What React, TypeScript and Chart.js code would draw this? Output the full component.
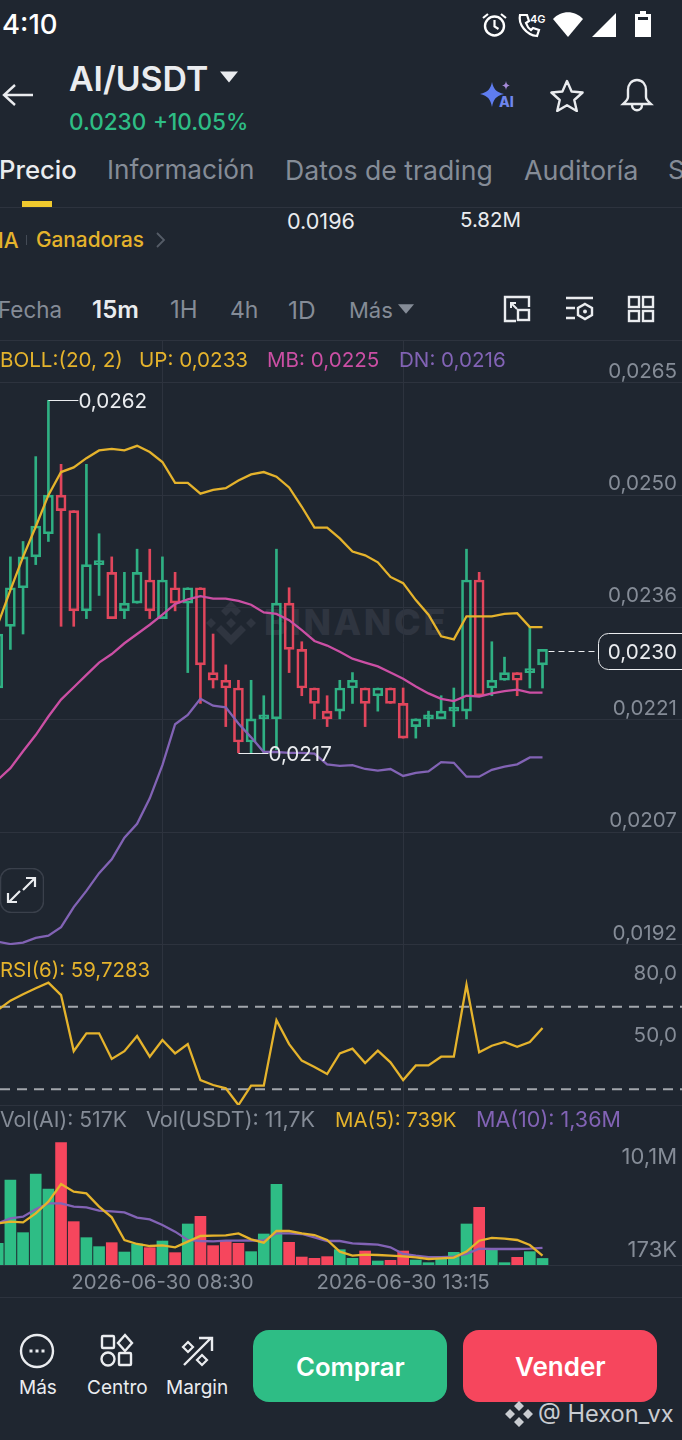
import React, { useEffect, useRef } from "react";
import { Chart, registerables } from "chart.js";

Chart.register(...registerables);

// ---------- data ----------
const opens = [0.0225,0.0233,0.0238,0.0242,0.0245,0.0250,0.0248,0.0235,0.0241,0.0240,0.0235,0.0236,0.0239,0.0234,0.0238,0.0236,0.0238,0.0227,0.0226,0.0225,0.0218,0.0221,0.0221,0.0236,0.0230,0.0225,0.0222,0.0222,0.0225,0.0225,0.0224,0.0225,0.0223,0.0220,0.0221,0.0221,0.0222,0.0222,0.0239,0.0225,0.0226,0.0227,0.0227,0.0228];
const closes = [0.0232,0.0238,0.0242,0.0246,0.0250,0.0248,0.0235,0.0241,0.0241,0.0234,0.0236,0.0240,0.0235,0.0239,0.0236,0.0238,0.0228,0.0226,0.0225,0.0218,0.0221,0.0221,0.0236,0.0230,0.0225,0.0223,0.0221,0.0225,0.0226,0.0223,0.0225,0.0223,0.02185,0.0221,0.0221,0.0222,0.0222,0.0239,0.0224,0.0226,0.0227,0.0226,0.0227,0.0230];
const highs = [0.0233,0.0242,0.0244,0.0255,0.02623,0.0254,0.0248,0.0254,0.0245,0.0242,0.0240,0.0243,0.0243,0.0242,0.0240,0.0238,0.0238,0.0232,0.0228,0.0226,0.0226,0.0224,0.0243,0.0238,0.0231,0.0225,0.0224,0.0226,0.0227,0.0225,0.0225,0.0225,0.0225,0.0221,0.0222,0.0224,0.0225,0.0243,0.0240,0.0231,0.0229,0.0227,0.0233,0.0230];
const lows = [0.0224,0.0230,0.0232,0.0241,0.0244,0.0233,0.0233,0.0234,0.0237,0.0234,0.0234,0.0236,0.0234,0.0234,0.0235,0.0227,0.0223,0.0225,0.0220,0.02166,0.02166,0.02166,0.0217,0.0227,0.0224,0.0221,0.0220,0.0221,0.0223,0.0220,0.0222,0.0223,0.02185,0.02185,0.0220,0.0221,0.0220,0.0221,0.0224,0.0224,0.0226,0.0224,0.0225,0.0225];
const bollUp = [0.02332,0.02377,0.0242,0.02459,0.025,0.0253,0.02536,0.02548,0.02558,0.0256,0.02558,0.02564,0.02556,0.02543,0.02516,0.02516,0.02502,0.02507,0.02509,0.02519,0.02527,0.0253,0.02524,0.0251,0.02485,0.02458,0.02458,0.02444,0.02427,0.02422,0.02413,0.02394,0.02386,0.02364,0.02345,0.02317,0.02313,0.02343,0.02343,0.02343,0.02346,0.02347,0.02329,0.02329];
const bollMid = [0.02131,0.02146,0.02168,0.02189,0.02213,0.02235,0.02251,0.02267,0.02283,0.02294,0.02308,0.0232,0.02332,0.02345,0.02359,0.02365,0.02369,0.02366,0.02366,0.02363,0.02358,0.02348,0.02346,0.02338,0.02325,0.02311,0.02305,0.02297,0.02288,0.02283,0.02278,0.0227,0.02262,0.02252,0.02243,0.02236,0.02233,0.0224,0.02239,0.02243,0.02246,0.02248,0.02244,0.02244];
const bollDn = [0.01921,0.01918,0.0192,0.01926,0.01929,0.0194,0.01966,0.01987,0.0201,0.02028,0.02056,0.02074,0.02107,0.0215,0.02203,0.02215,0.02236,0.02227,0.02225,0.02204,0.02186,0.02167,0.02167,0.02166,0.02166,0.02165,0.02151,0.02149,0.0215,0.02145,0.02143,0.02145,0.02136,0.0214,0.02142,0.02154,0.02153,0.02135,0.02135,0.02144,0.02148,0.02151,0.0216,0.0216];
const rsi = [68.4,72.9,76,78.9,81.6,75.6,48.5,57.1,57.1,44.7,48.5,55.8,45.8,53.9,47.4,51.9,34.5,32.1,30.5,22.4,31.8,31.8,63.5,51.9,43.9,40.8,37.4,47.4,49.7,42.7,48.7,43.1,34.5,41.6,41.6,45.8,45.8,80.6,47.9,51.1,52.9,50.6,52.9,59.7283];
const rsiBands = [70, 30];
const volumeK = [1710,6715,2555,7190,6005,9665,3425,2160,1450,1765,1025,1660,1370,1895,975,3240,3845,1530,1895,1710,1055,2450,6370,1790,630,525,660,1210,525,1105,315,370,1105,395,185,525,1000,3240,4555,1210,185,605,1055,517];
const volMa5K = [3290,3425,3370,4080,5000,6400,5790,5660,4610,3765,1975,1660,1500,1555,1395,1845,2290,2315,2345,2500,2030,1765,2685,2685,2500,2370,1975,1055,735,815,790,735,685,605,475,525,580,1055,1920,2135,2080,1975,1580,739];
const volMa10K = [3290,3685,3820,4395,4870,4870,4610,4555,4290,4240,4160,3740,3605,3160,2635,1975,1895,1870,1920,1920,1950,1920,2500,2500,2450,2185,1895,1895,1710,1660,1605,1395,870,735,630,630,660,870,1290,1265,1265,1265,1290,1360];
const priceTickValues = [0.02646,0.025,0.02355,0.02209,0.02063,0.01917];
const priceTickLabels = ["0,0265","0,0250","0,0236","0,0221","0,0207","0,0192"];
const rsiTickValues = [80,50];
const volTickValues = [10100,173];
const volTickLabels = ["10,1M","173K"];
const timeTickIndex = [13,32];
const timeTickLabels = ["2026-06-30 08:30","2026-06-30 13:15"];

// ---------- style ----------
const FONT = "Inter, sans-serif";
const BG = "#1f2630";
const GRID = "#2d333e";
const GREEN = "#2ebd85";
const RED = "#f6465d";
const CANDLE_GREEN = "#2fb083";
const CANDLE_RED = "#e0465c";
const YELLOW = "#e5b32c";
const PINK = "#cb4fa4";
const PURPLE = "#8263b5";
const AXIS = "#858c97";
const W = 682;
const X_MIN = 0.18;
const X_MAX = 54.01;

const idx = opens.map((_, i) => i);
const series = (values: number[]) => values.map((y, x) => ({ x, y }));
const isUp = (i: number) => closes[i] >= opens[i];
const candleColors = idx.map((i) => (isUp(i) ? CANDLE_GREEN : CANDLE_RED));
const volColors = idx.map((i) => (isUp(i) ? GREEN : RED));
const fmtPrice = (v: number) => v.toFixed(4).replace(".", ",");

const lineDs = (data: any, color: string, extra: any = {}) => ({
  type: "line",
  data,
  borderColor: color,
  borderWidth: 2.3,
  pointRadius: 0,
  tension: 0,
  order: 0,
  ...extra,
});

const noPadding = (s: any) => {
  s.paddingTop = 0;
  s.paddingBottom = 0;
  s.paddingLeft = 0;
  s.paddingRight = 0;
};

const xScale = (showLabels: boolean, height: number) => ({
  type: "linear",
  min: X_MIN,
  max: X_MAX,
  offset: false,
  afterBuildTicks: (s: any) => { s.ticks = timeTickIndex.map((value) => ({ value })); },
  afterFit: (s: any) => { s.height = height; noPadding(s); },
  grid: { color: GRID, offset: false, drawTicks: false, lineWidth: 1 },
  border: { display: false },
  ticks: {
    display: showLabels,
    autoSkip: false,
    maxRotation: 0,
    padding: 6,
    color: AXIS,
    font: { family: FONT, size: 20.4 },
    callback: (_: any, i: number) => timeTickLabels[i],
  },
});

const yScale = (min: number, max: number, values: number[], labels: (i: number, v: number) => string, opts: any = {}) => ({
  position: "right",
  min,
  max,
  afterBuildTicks: (s: any) => { s.ticks = values.map((value) => ({ value })); },
  afterFit: (s: any) => { s.width = 0; noPadding(s); },
  grid: { color: GRID, drawTicks: false, display: opts.grid ?? false },
  border: { display: false },
  ticks: {
    display: opts.labels ?? true,
    mirror: true,
    padding: -5,
    labelOffset: opts.labelOffset ?? -11,
    autoSkip: false,
    color: AXIS,
    font: { family: FONT, size: 20.6 },
    callback: (v: number, i: number) => labels(i, v),
  },
});

const baseOptions = {
  responsive: false,
  animation: false,
  events: [],
  layout: { padding: 0 },
  plugins: { legend: { display: false }, tooltip: { enabled: false } },
};

const priceMarks = {
  id: "priceMarks",
  afterDatasetsDraw(chart: any) {
    const { ctx, scales } = chart;
    const { x, y } = scales;
    ctx.save();
    ctx.font = `20.6px ${FONT}`;
    ctx.textBaseline = "middle";
    ctx.textAlign = "left";
    const mark = (i: number, v: number) => {
      const px = x.getPixelForValue(i);
      const py = Math.round(y.getPixelForValue(v)) + 0.5;
      ctx.strokeStyle = "#eaecef";
      ctx.lineWidth = 1;
      ctx.beginPath();
      ctx.moveTo(px, py);
      ctx.lineTo(px + 30, py);
      ctx.stroke();
      ctx.fillStyle = "#eaecef";
      ctx.fillText(fmtPrice(v), px + 30, py + 1);
    };
    const hi = Math.max(...highs);
    const lo = Math.min(...lows);
    mark(highs.indexOf(hi), hi);
    mark(lows.indexOf(lo), lo);
    const last = closes.length - 1;
    const ly = Math.round(y.getPixelForValue(closes[last])) + 2.5;
    ctx.strokeStyle = "#eaecef";
    ctx.setLineDash([6, 4]);
    ctx.beginPath();
    ctx.moveTo(x.getPixelForValue(last) + 6, ly);
    ctx.lineTo(598, ly);
    ctx.stroke();
    ctx.setLineDash([]);
    ctx.beginPath();
    ctx.roundRect(598.5, ly - 18, 100, 36, 10);
    ctx.fillStyle = BG;
    ctx.fill();
    ctx.stroke();
    ctx.fillStyle = "#eaecef";
    ctx.textAlign = "right";
    ctx.fillText(fmtPrice(closes[last]), 677, ly + 1);
    ctx.restore();
  },
};

const volumeTickText = {
  id: "volumeTickText",
  afterDraw(chart: any) {
    const { ctx, scales } = chart;
    ctx.save();
    ctx.font = `22px ${FONT}`;
    ctx.fillStyle = AXIS;
    ctx.textAlign = "right";
    ctx.textBaseline = "middle";
    const shift = [20, -12];
    volTickValues.forEach((v, i) => {
      ctx.fillText(volTickLabels[i], 677, scales.y.getPixelForValue(v) + shift[i]);
    });
    ctx.restore();
  },
};

// ---------- small html helpers ----------
const T = ({ x, y, s = 20, c = AXIS, w = 400, r, children }: any) => (
  <div style={{
    position: "absolute", left: r === undefined ? x : undefined, right: r, top: y,
    transform: "translateY(-50%)", fontFamily: FONT, fontSize: s, color: c,
    fontWeight: w, whiteSpace: "nowrap", lineHeight: 1,
  }}>{children}</div>
);
const Line = ({ y }: any) => <div style={{ position: "absolute", left: 0, width: W, top: y, height: 1, background: GRID }} />;
const Ico = ({ x, y, w, h, children, vb }: any) => (
  <svg style={{ position: "absolute", left: x, top: y }} width={w} height={h} viewBox={vb ?? `0 0 ${w} ${h}`} fill="none">{children}</svg>
);
const WHITE = "#eaecef";

const Tri = ({ x, y, c, size = 8 }: any) => (
  <Ico x={x - size} y={y - size} w={size * 2} h={size * 2}>
    <path d={`M0 ${size * 0.4}H${size * 2}L${size} ${size * 1.6}Z`} fill={c} />
  </Ico>
);

function StatusBar() {
  return (
    <>
      <T x={2} y={25} s={27.5} c="#fff" w={500}>4:10</T>
      <Ico x={481} y={12} w={27} h={26}>
        <circle cx="13.5" cy="14" r="9.5" stroke="#fff" strokeWidth="2.4" />
        <path d="M13.5 8v6.5l4 2.5M2 6l5-4M25 6l-5-4" stroke="#fff" strokeWidth="2.2" />
      </Ico>
      <Ico x={517} y={12} w={30} h={26}>
        <path d="M3 3c-2 9 6 20 17 21l2-6-6-2-2 2c-3-2-4-4-5-7l3-2-2-6z" stroke="#fff" strokeWidth="2.2" />
      </Ico>
      <T x={530} y={19} s={11} c="#fff" w={600}>4G</T>
      <Ico x={553} y={12} w={30} h={25}><path d="M0 7C8-2 22-2 30 7L15 25Z" fill="#fff" /></Ico>
      <Ico x={592} y={13} w={24} h={24}><path d="M24 0V24H0Z" fill="#fff" /></Ico>
      <Ico x={635} y={11} w={16} h={26}>
        <path d="M5 0h6v3h5v23H0V3h5z" fill="#fff" />
        <rect x="3" y="6" width="10" height="3" fill={BG} />
      </Ico>
    </>
  );
}

function Header() {
  return (
    <>
      <Ico x={2} y={83} w={31} h={24}><path d="M31 12H2M13 2L2 12l11 10" stroke={WHITE} strokeWidth="2.4" /></Ico>
      <T x={69} y={79} s={33.8} c={WHITE} w={600}>AI/USDT</T>
      <Tri x={229} y={77} c={WHITE} size={9} />
      <T x={69} y={122} s={22.5} c={GREEN} w={500}>0.0230</T>
      <T x={153} y={122} s={22.5} c={GREEN} w={500}>+10.05%</T>
      <Ico x={479} y={80} w={36} h={30}>
        <path d="M13 2c1.5 7 4 10 12 12-8 2-10.500 5-12 13C11.500 19 9 16 1 14 9 12 11.500 9 13 2Z" fill="#5f7df0" />
        <path d="M27 1c.5 3 1.500 4 4 4.500-2.500.5-3.500 1.500-4 4.500-.5-3-1.500-4-4-4.500 2.500-.5 3.500-1.500 4-4.500Z" fill="#a58ad8" />
      </Ico>
      <T x={499} y={102} s={14} c="#6f86ee" w={800}>AI</T>
      <Ico x={550} y={79} w={34} h={33}>
        <path d="M17 2l4.600 10.500 11 1-8.300 7.500 2.500 11L17 26.200 7.200 32l2.500-11L1.400 13.500l11-1Z" stroke={WHITE} strokeWidth="2.4" strokeLinejoin="round" />
      </Ico>
      <Ico x={620} y={78} w={34} h={35}>
        <path d="M17 2c6 0 9 5 9 10v7c0 3 3 5 5 7H3c2-2 5-4 5-7v-7c0-5 3-10 9-10ZM12 27c0 7 10 7 10 0" stroke={WHITE} strokeWidth="2.4" />
      </Ico>
      <T x={-1} y={170} s={25.7} c={WHITE} w={500}>Precio</T>
      <T x={107} y={170} s={26.2}>Información</T>
      <T x={285} y={170} s={26.6}>Datos de trading</T>
      <T x={524} y={170} s={26.9}>Auditoría</T>
      <T x={668} y={170} s={26}>S</T>
      <div style={{ position: "absolute", left: 22, top: 201, width: 30, height: 6, background: "#f0c92e" }} />
      <Line y={207} />
      <T x={287} y={222} s={21.6} c={WHITE}>0.0196</T>
      <T x={460} y={220} s={20.5} c={WHITE}>5.82M</T>
      <T x={-2} y={240} s={21} c={YELLOW} w={500}>IA</T>
      <div style={{ position: "absolute", left: 26, top: 235, width: 1, height: 10, background: "#444b56" }} />
      <T x={36} y={240} s={20.8} c={YELLOW} w={500}>Ganadoras</T>
      <Ico x={155} y={231} w={11} h={18}><path d="M2 2l7 7-7 7" stroke="#555c67" strokeWidth="1.800" /></Ico>
      <T x={-2} y={310} s={22.4}>Fecha</T>
      <T x={92} y={310} s={24} c={WHITE} w={600}>15m</T>
      <T x={170} y={310} s={24}>1H</T>
      <T x={230} y={310} s={23}>4h</T>
      <T x={288} y={310} s={24.5}>1D</T>
      <T x={349} y={310} s={22}>Más</T>
      <Tri x={406} y={309} c={AXIS} size={8} />
      <Ico x={503} y={295} w={28} h={28}>
        <path d="M13 26H2V2h24v10" stroke={WHITE} strokeWidth="2.400" />
        <rect x="15" y="15" width="11" height="10" stroke={WHITE} strokeWidth="2.400" />
        <path d="M8 8l6 6M8 13V8h5" stroke={WHITE} strokeWidth="2" />
      </Ico>
      <Ico x={564} y={295} w={30} h={28}>
        <path d="M2 3h27M2 13h9M2 23h9" stroke={WHITE} strokeWidth="2.400" />
        <path d="M21 9l7 4v7l-7 4-7-4v-7z" stroke={WHITE} strokeWidth="2.400" />
        <circle cx="21" cy="16.500" r="2" fill={WHITE} />
      </Ico>
      <Ico x={627} y={295} w={28} h={28}>
        {[[2, 2], [16, 2], [2, 16], [16, 16]].map(([a, b]) => (
          <rect key={`${a}${b}`} x={a} y={b} width="10" height="10" stroke={WHITE} strokeWidth="2.400" />
        ))}
      </Ico>
    </>
  );
}

function Legends() {
  return (
    <>
      <T x={0} y={360} s={20.6} c={YELLOW}>BOLL:(20, 2)</T>
      <T x={139} y={360} s={20.6} c={YELLOW}>UP: 0,0233</T>
      <T x={267} y={360} s={20.6} c={PINK}>MB: 0,0225</T>
      <T x={399} y={360} s={20.6} c={PURPLE}>DN: 0,0216</T>
      <T x={0} y={970} s={20.4} c={YELLOW}>RSI(6): 59,7283</T>
      <T x={0} y={1120} s={21.2}>Vol(AI): 517K</T>
      <T x={146} y={1120} s={21.6}>Vol(USDT): 11,7K</T>
      <T x={335} y={1120} s={20.4} c={YELLOW}>MA(5): 739K</T>
      <T x={476} y={1120} s={21.5} c={PURPLE}>MA(10): 1,36M</T>
    </>
  );
}

function Watermark() {
  const c = "#2f3540";
  return (
    <>
      <Ico x={206} y={598} w={50} h={50}>
        <path d="M25 3l10 10-5 5-5-5-5 5-5-5zM5 20l5 5-5 5-5-5zM45 20l5 5-5 5-5-5zM25 20l5 5-5 5-5-5zM15 27l5 5 5 5 5-5 5-5 5 5-15 15-15-15z" fill={c} />
      </Ico>
      <div style={{ position: "absolute", left: 264, top: 622, transform: "translateY(-50%)", fontFamily: FONT, fontSize: 36, fontWeight: 800, color: c, letterSpacing: 2.6, lineHeight: 1 }}>BINANCE</div>
    </>
  );
}

function Footer() {
  return (
    <>
      <Ico x={19} y={1333} w={36} h={36}>
        <circle cx="18" cy="18" r="16" stroke={WHITE} strokeWidth="2.400" />
        <path d="M10.500 18h3M16.500 18h3M22.500 18h3" stroke={WHITE} strokeWidth="3" />
      </Ico>
      <T x={19} y={1387} s={19} c={WHITE}>Más</T>
      <Ico x={100} y={1333} w={34} h={35}>
        <rect x="2" y="3" width="12" height="12" rx="1" stroke={WHITE} strokeWidth="2.400" />
        <path d="M25 2l7 8-7 8-7-8z" stroke={WHITE} strokeWidth="2.400" />
        <circle cx="8" cy="26" r="6.500" stroke={WHITE} strokeWidth="2.400" />
        <rect x="19" y="20" width="12" height="12" rx="1" stroke={WHITE} strokeWidth="2.400" />
      </Ico>
      <T x={87} y={1387} s={19} c={WHITE}>Centro</T>
      <Ico x={181} y={1335} w={33} h={33}>
        <path d="M3 30L30 3M18 3h13v13" stroke={WHITE} strokeWidth="2.400" />
        <path d="M7 7l5 5-5 5-5-5zM21 20l5 5-5 5-5-5z" stroke={WHITE} strokeWidth="2.200" />
      </Ico>
      <T x={166} y={1387} s={19} c={WHITE}>Margin</T>
      <div style={{ position: "absolute", left: 253, top: 1330, width: 194, height: 72, borderRadius: 16, background: GREEN }} />
      <div style={{ position: "absolute", left: 463, top: 1330, width: 194, height: 72, borderRadius: 16, background: RED }} />
      <T x={296} y={1367} s={25.7} c="#fff" w={600}>Comprar</T>
      <T x={515} y={1367} s={26} c="#fff" w={600}>Vender</T>
      <Ico x={505} y={1400} w={28} h={28}>
        <path d="M14 1l5 5-5 5-5-5zM14 17l5 5-5 5-5-5zM5 9l5 5-5 5-5-5zM23 9l5 5-5 5-5-5z" fill="#c9ccd1" />
      </Ico>
      <T x={538} y={1414} s={23.6} c="#c9ccd1">@ Hexon_vx</T>
    </>
  );
}

export default function App() {
  const priceRef = useRef<HTMLCanvasElement>(null);
  const rsiRef = useRef<HTMLCanvasElement>(null);
  const volRef = useRef<HTMLCanvasElement>(null);

  useEffect(() => {
    const wickBase = { type: "bar", grouped: false, barPercentage: 1, categoryPercentage: 1, order: 2, maxBarThickness: 2, backgroundColor: candleColors, borderWidth: 0 };
    const price = new Chart(priceRef.current as any, {
      type: "bar",
      data: {
        datasets: [
          lineDs(series(bollUp), YELLOW),
          lineDs(series(bollMid), PINK),
          lineDs(series(bollDn), PURPLE),
          { ...wickBase, label: "wick high", data: idx.map((i) => ({ x: i, y: [Math.max(opens[i], closes[i]), highs[i]] })) },
          { ...wickBase, label: "wick low", data: idx.map((i) => ({ x: i, y: [lows[i], Math.min(opens[i], closes[i])] })) },
          {
            type: "bar", label: "body", grouped: false, barPercentage: 1, categoryPercentage: 1, order: 1,
            maxBarThickness: 10, minBarLength: 4, backgroundColor: "transparent", borderColor: candleColors,
            borderWidth: 2, borderSkipped: false,
            data: idx.map((i) => ({ x: i, y: [opens[i], closes[i]] })),
          },
        ],
      } as any,
      options: {
        ...baseOptions,
        scales: {
          x: xScale(false, 0),
          y: yScale(0.019168, 0.027012, priceTickValues, (i) => priceTickLabels[i], { grid: true, labelOffset: -11 }),
        },
      } as any,
      plugins: [priceMarks],
    });

    const bandColor = "#a2a6ac";
    const bandLine = (v: number) => lineDs([{ x: X_MIN, y: v }, { x: X_MAX, y: v }], bandColor, { borderDash: [10, 7], borderWidth: 2, order: 1 });
    const rsiChart = new Chart(rsiRef.current as any, {
      type: "line",
      data: { datasets: [bandLine(rsiBands[0]), bandLine(rsiBands[1]), lineDs(series(rsi), YELLOW, { clip: false })] } as any,
      options: {
        ...baseOptions,
        scales: {
          x: xScale(false, 0),
          y: yScale(22.43, 99.84, rsiTickValues, (_, v) => v.toFixed(1).replace(".", ","), { labelOffset: -12.5 }),
        },
      } as any,
    });

    const vol = new Chart(volRef.current as any, {
      type: "bar",
      data: {
        datasets: [
          lineDs(series(volMa10K), PURPLE),
          lineDs(series(volMa5K), YELLOW, { order: -1 }),
          {
            type: "bar", label: "volume", grouped: false, barPercentage: 1, categoryPercentage: 1, order: 1,
            maxBarThickness: 11, backgroundColor: volColors, data: series(volumeK),
          },
        ],
      } as any,
      options: {
        ...baseOptions,
        scales: {
          x: xScale(true, 32),
          y: yScale(0, 12640, volTickValues, (i) => volTickLabels[i], { labels: false }),
        },
      } as any,
      plugins: [volumeTickText],
    });

    return () => { price.destroy(); rsiChart.destroy(); vol.destroy(); };
  }, []);

  const canvasStyle = (top: number) => ({ position: "absolute" as const, left: 0, top, display: "block" });

  return (
    <div style={{ position: "fixed", left: 0, top: 0, width: W, height: 1440, background: BG, overflow: "hidden" }}>
      <Line y={340} />
      <Line y={1105} />
      <Line y={1265} />
      <Line y={1297} />
      <Watermark />
      <canvas ref={priceRef} width={W} height={605} style={canvasStyle(340)} />
      <canvas ref={rsiRef} width={W} height={160} style={canvasStyle(945)} />
      <canvas ref={volRef} width={W} height={192} style={canvasStyle(1105)} />
      <StatusBar />
      <Header />
      <Legends />
      <Ico x={0} y={868} w={44} h={45}>
        <rect x="0.5" y="0.5" width="43" height="44" rx="11" fill={BG} stroke="#3a404b" strokeWidth="1.500" />
        <path d="M23 22L34 11M26 10h9v9M20 23L9 34M8 25v9h9" stroke={WHITE} strokeWidth="2.200" />
      </Ico>
      <Footer />
    </div>
  );
}
